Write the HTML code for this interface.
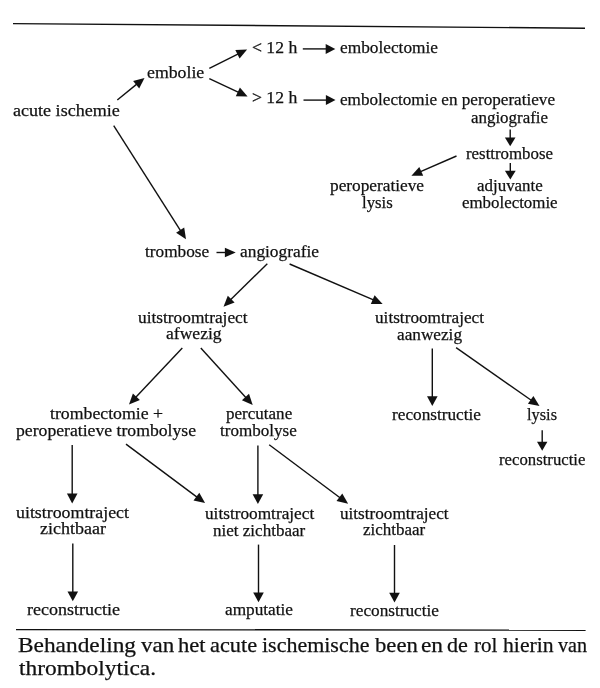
<!DOCTYPE html>
<html><head><meta charset="utf-8"><title>Behandeling acute ischemie</title>
<style>
html,body{margin:0;padding:0;background:#fff;}
body{width:600px;height:688px;position:relative;overflow:hidden;filter:grayscale(1) blur(0.35px);font-family:"Liberation Serif",serif;color:#111;}
.t{-webkit-text-stroke:0.25px #111;position:absolute;transform-origin:0 0;white-space:pre;line-height:1;font-family:"Liberation Serif",serif;color:#111;}
svg{position:absolute;left:0;top:0;}
svg line{stroke:#111;stroke-width:1.4;}
svg polygon,svg rect{fill:#111;stroke:none;}
</style></head><body>
<svg width="600" height="688" viewBox="0 0 600 688">
<line x1="117.3" y1="100.0" x2="137.7" y2="83.4"/>
<polygon points="144.5,77.9 139.2,88.4 133.1,80.9"/>
<line x1="209.3" y1="68.3" x2="239.3" y2="53.3"/>
<polygon points="247.1,49.4 239.6,58.5 235.3,49.9"/>
<line x1="209.3" y1="78.7" x2="239.7" y2="92.8"/>
<polygon points="247.6,96.5 235.8,96.3 239.9,87.6"/>
<line x1="302.8" y1="48.9" x2="327.7" y2="48.9"/>
<polygon points="335.3,48.9 325.7,53.9 325.7,43.9"/>
<line x1="303.5" y1="100.1" x2="327.9" y2="100.1"/>
<polygon points="335.5,100.1 325.9,105.1 325.9,95.1"/>
<line x1="510.2" y1="129.4" x2="510.2" y2="139.5"/>
<polygon points="510.2,146.3 504.9,137.5 515.5,137.5"/>
<line x1="456.5" y1="156.0" x2="419.4" y2="172.2"/>
<polygon points="411.4,175.8 419.3,167.0 423.2,175.8"/>
<line x1="510.3" y1="163.0" x2="510.3" y2="172.7"/>
<polygon points="510.3,179.5 504.9,170.7 515.7,170.7"/>
<line x1="113.7" y1="125.7" x2="181.3" y2="231.9"/>
<polygon points="186.0,239.3 176.1,232.8 184.2,227.6"/>
<line x1="216.5" y1="252.5" x2="226.9" y2="252.5"/>
<polygon points="235.7,252.5 224.9,257.3 224.9,247.7"/>
<line x1="267.3" y1="263.7" x2="229.8" y2="300.5"/>
<polygon points="223.5,306.7 227.8,295.7 234.6,302.6"/>
<line x1="289.6" y1="264.0" x2="374.6" y2="300.4"/>
<polygon points="382.6,303.9 370.8,304.0 374.6,295.2"/>
<line x1="182.3" y1="348.0" x2="135.1" y2="398.1"/>
<polygon points="129.0,404.5 132.9,393.4 139.9,399.9"/>
<line x1="200.8" y1="348.0" x2="246.7" y2="398.5"/>
<polygon points="252.7,405.0 241.9,400.3 249.0,393.8"/>
<line x1="432.3" y1="348.5" x2="432.3" y2="398.2"/>
<polygon points="432.3,406.0 427.0,396.2 437.6,396.2"/>
<line x1="456.1" y1="347.6" x2="532.3" y2="401.0"/>
<polygon points="539.5,406.0 527.9,403.7 533.4,395.9"/>
<line x1="542.2" y1="430.3" x2="542.2" y2="443.7"/>
<polygon points="542.2,450.7 537.0,441.7 547.4,441.7"/>
<line x1="72.2" y1="445.0" x2="72.2" y2="495.6"/>
<polygon points="72.2,503.4 66.9,493.6 77.5,493.6"/>
<line x1="126.0" y1="444.1" x2="198.0" y2="497.9"/>
<polygon points="205.1,503.1 193.5,500.5 199.3,492.8"/>
<line x1="257.9" y1="445.5" x2="257.9" y2="496.2"/>
<polygon points="257.9,504.0 252.6,494.2 263.2,494.2"/>
<line x1="269.2" y1="444.8" x2="341.0" y2="498.5"/>
<polygon points="348.1,503.7 336.5,501.1 342.3,493.4"/>
<line x1="72.8" y1="543.5" x2="72.8" y2="593.4"/>
<polygon points="72.8,601.2 67.5,591.4 78.1,591.4"/>
<line x1="258.5" y1="544.6" x2="258.5" y2="594.5"/>
<polygon points="258.5,602.3 253.2,592.5 263.8,592.5"/>
<line x1="394.5" y1="545.0" x2="394.5" y2="594.7"/>
<polygon points="394.5,602.5 389.2,592.7 399.8,592.7"/>
<line x1="13" y1="23.6" x2="585" y2="28.2" style="stroke-width:1.4"/>
<line x1="16" y1="629.6" x2="585.6" y2="630.2" style="stroke-width:1.45"/>
</svg>
<div class="t" style="left:13.20px;top:101.51px;font-size:17.3px;transform:scaleX(1.0450)">acute ischemie</div>
<div class="t" style="left:146.80px;top:63.51px;font-size:17.3px;transform:scaleX(1.0280)">embolie</div>
<div class="t" style="left:251.80px;top:38.51px;font-size:17.3px;transform:scaleX(1.0214)">&lt; 12 h</div>
<div class="t" style="left:251.80px;top:88.51px;font-size:17.3px;transform:scaleX(1.0214)">&gt; 12 h</div>
<div class="t" style="left:340.00px;top:38.51px;font-size:17.3px;transform:scaleX(1.0011)">embolectomie</div>
<div class="t" style="left:340.00px;top:90.51px;font-size:17.3px;transform:scaleX(0.9914)">embolectomie en peroperatieve</div>
<div class="t" style="left:471.00px;top:108.51px;font-size:17.3px;transform:scaleX(0.9786)">angiografie</div>
<div class="t" style="left:466.00px;top:144.51px;font-size:17.3px;transform:scaleX(0.9745)">resttrombose</div>
<div class="t" style="left:330.00px;top:176.51px;font-size:17.3px;transform:scaleX(0.9997)">peroperatieve</div>
<div class="t" style="left:362.20px;top:193.51px;font-size:17.3px;transform:scaleX(0.9718)">lysis</div>
<div class="t" style="left:477.00px;top:176.51px;font-size:17.3px;transform:scaleX(0.9794)">adjuvante</div>
<div class="t" style="left:462.00px;top:193.51px;font-size:17.3px;transform:scaleX(0.9767)">embolectomie</div>
<div class="t" style="left:145.40px;top:242.51px;font-size:17.3px;transform:scaleX(0.9981)">trombose</div>
<div class="t" style="left:240.00px;top:242.51px;font-size:17.3px;transform:scaleX(1.0041)">angiografie</div>
<div class="t" style="left:138.20px;top:308.51px;font-size:17.3px;transform:scaleX(1.0017)">uitstroomtraject</div>
<div class="t" style="left:166.20px;top:324.51px;font-size:17.3px;transform:scaleX(1.0168)">afwezig</div>
<div class="t" style="left:375.00px;top:308.51px;font-size:17.3px;transform:scaleX(0.9961)">uitstroomtraject</div>
<div class="t" style="left:397.00px;top:325.51px;font-size:17.3px;transform:scaleX(0.9962)">aanwezig</div>
<div class="t" style="left:50.00px;top:404.51px;font-size:17.3px;transform:scaleX(1.0269)">trombectomie +</div>
<div class="t" style="left:16.00px;top:421.51px;font-size:17.3px;transform:scaleX(1.0221)">peroperatieve trombolyse</div>
<div class="t" style="left:225.80px;top:404.51px;font-size:17.3px;transform:scaleX(0.9857)">percutane</div>
<div class="t" style="left:220.00px;top:421.51px;font-size:17.3px;transform:scaleX(0.9876)">trombolyse</div>
<div class="t" style="left:392.20px;top:405.51px;font-size:17.3px;transform:scaleX(0.9973)">reconstructie</div>
<div class="t" style="left:527.00px;top:405.51px;font-size:17.3px;transform:scaleX(0.9463)">lysis</div>
<div class="t" style="left:499.00px;top:450.51px;font-size:17.3px;transform:scaleX(0.9681)">reconstructie</div>
<div class="t" style="left:15.80px;top:503.51px;font-size:17.3px;transform:scaleX(1.0327)">uitstroomtraject</div>
<div class="t" style="left:40.00px;top:519.51px;font-size:17.3px;transform:scaleX(1.0422)">zichtbaar</div>
<div class="t" style="left:204.80px;top:504.51px;font-size:17.3px;transform:scaleX(0.9980)">uitstroomtraject</div>
<div class="t" style="left:212.80px;top:521.51px;font-size:17.3px;transform:scaleX(0.9855)">niet zichtbaar</div>
<div class="t" style="left:340.20px;top:504.51px;font-size:17.3px;transform:scaleX(0.9925)">uitstroomtraject</div>
<div class="t" style="left:363.00px;top:520.51px;font-size:17.3px;transform:scaleX(0.9823)">zichtbaar</div>
<div class="t" style="left:27.00px;top:600.51px;font-size:17.3px;transform:scaleX(1.0420)">reconstructie</div>
<div class="t" style="left:225.00px;top:600.51px;font-size:17.3px;transform:scaleX(0.9980)">amputatie</div>
<div class="t" style="left:350.00px;top:601.51px;font-size:17.3px;transform:scaleX(0.9972)">reconstructie</div>
<div class="t" style="left:18.40px;top:634.99px;font-size:21.5px;transform:scaleX(1.0859)">Behandeling</div>
<div class="t" style="left:140.80px;top:634.99px;font-size:21.5px;transform:scaleX(1.0697)">van</div>
<div class="t" style="left:178.20px;top:634.99px;font-size:21.5px;transform:scaleX(1.0503)">het</div>
<div class="t" style="left:209.60px;top:634.99px;font-size:21.5px;transform:scaleX(1.0377)">acute</div>
<div class="t" style="left:262.20px;top:634.99px;font-size:21.5px;transform:scaleX(1.0222)">ischemische</div>
<div class="t" style="left:375.00px;top:634.99px;font-size:21.5px;transform:scaleX(1.0545)">been</div>
<div class="t" style="left:420.80px;top:634.99px;font-size:21.5px;transform:scaleX(1.0864)">en</div>
<div class="t" style="left:446.80px;top:634.99px;font-size:21.5px;transform:scaleX(1.0306)">de</div>
<div class="t" style="left:473.60px;top:634.99px;font-size:21.5px;transform:scaleX(0.9796)">rol</div>
<div class="t" style="left:502.60px;top:634.99px;font-size:21.5px;transform:scaleX(1.0091)">hierin</div>
<div class="t" style="left:557.80px;top:634.99px;font-size:21.5px;transform:scaleX(0.9341)">van</div>
<div class="t" style="left:19.00px;top:657.99px;font-size:21.5px;transform:scaleX(1.0874)">thrombolytica.</div>
</body></html>
